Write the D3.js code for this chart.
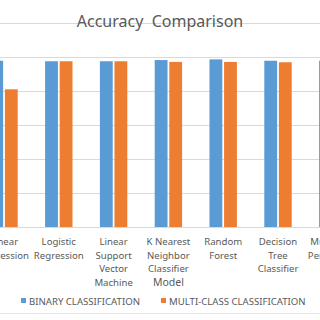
<!DOCTYPE html>
<html>
<head>
<meta charset="utf-8">
<script src="https://cdn.jsdelivr.net/npm/d3@7"></script>
<style>
  html, body { margin: 0; padding: 0; background: #fff; }
  svg { display: block; }
  text { font-family: "Noto Sans", "Open Sans", sans-serif; fill: #595959; }
</style>
</head>
<body>
<svg id="chart" width="320" height="320"></svg>
<script>
var categories = ["Linear Regression", "Logistic Regression", "Linear Support Vector Machine",
    "K Nearest Neighbor Classifier", "Random Forest", "Decision Tree Classifier", "Multilayer Perceptron"]
var categoryLines = [["Linear", "Regression"], ["Logistic", "Regression"], ["Linear", "Support", "Vector", "Machine"],
    ["K Nearest", "Neighbor", "Classifier"], ["Random", "Forest"], ["Decision", "Tree", "Classifier"], ["Multilayer", "Perceptron"]]
var seriesNames = ["BINARY CLASSIFICATION", "MULTI-CLASS CLASSIFICATION"]
var binaryValues = [97.8, 97.5, 97.5, 98.2, 98.6, 97.8, 97.8]
var multiValues = [81.0, 97.5, 97.5, 97.1, 97.1, 96.9, 97.0]
var yTicks = [0, 20, 40, 60, 80, 100, 120]
var colors = ["#5B9BD5", "#ED7D31"]

var svg = d3.select("#chart")
var plot = { left: -23.4, right: 360.2, top: 23, bottom: 227 }

// scales
var x0 = d3.scaleBand()
    .domain(categories)
    .range([plot.left, plot.right])
var bw = x0.bandwidth()
var x1 = d3.scaleBand()
    .domain(seriesNames)
    .range([bw * 0.25, bw * 0.75])
    .paddingInner(0.12)
var yScale = d3.scaleLinear()
    .domain([0, 120])
    .range([plot.bottom, plot.top])

// gridlines
svg.append("g").selectAll("line")
    .data(yTicks)
    .enter()
    .append("line")
    .attr("x1", 0).attr("x2", 320)
    .attr("y1", function (d) { return Math.round(yScale(d)) + 0.5 })
    .attr("y2", function (d) { return Math.round(yScale(d)) + 0.5 })
    .attr("stroke", "#d9d9d9")
    .attr("stroke-width", 1)

// bars
var rows = categories.map(function (c, i) {
    return { key: c, values: [binaryValues[i], multiValues[i]] }
})
var groups = svg.append("g").selectAll("g")
    .data(rows)
    .enter()
    .append("g")
    .attr("transform", function (d) { return "translate(" + x0(d.key) + ",0)" })
groups.selectAll("rect")
    .data(function (d) { return d.values.map(function (v, j) { return { s: seriesNames[j], v: v, j: j } }) })
    .enter()
    .append("rect")
    .attr("x", function (d) { return x1(d.s) })
    .attr("y", function (d) { return yScale(d.v) })
    .attr("width", x1.bandwidth())
    .attr("height", function (d) { return yScale(0) - yScale(d.v) })
    .attr("fill", function (d) { return colors[d.j] })

// category labels
svg.append("g").selectAll("text")
    .data(categories)
    .enter()
    .append("text")
    .attr("text-anchor", "middle")
    .attr("font-size", "9.6px")
    .each(function (d, i) {
        var t = d3.select(this)
        categoryLines[i].forEach(function (line, k) {
            t.append("tspan")
                .attr("x", x0(d) + bw / 2)
                .attr("y", 245 + k * 13.6)
                .text(line)
        })
    })

// axis title
svg.append("text")
    .attr("x", (plot.left + plot.right) / 2)
    .attr("y", 286)
    .attr("text-anchor", "middle")
    .attr("font-size", "10.5px")
    .text("Model")

// title
svg.append("text")
    .attr("x", 160)
    .attr("y", 26.5)
    .attr("text-anchor", "middle")
    .attr("font-size", "16px")
    .attr("xml:space", "preserve")
    .text("Accuracy  Comparison")

// legend
var legendX = [21, 161]
var legend = svg.append("g").selectAll("g")
    .data(seriesNames)
    .enter()
    .append("g")
    .attr("transform", function (d, i) { return "translate(" + legendX[i] + ",297)" })
legend.append("rect")
    .attr("width", 5).attr("height", 5)
    .attr("y", 1)
    .attr("fill", function (d, i) { return colors[i] })
legend.append("text")
    .attr("x", 8)
    .attr("y", 7.5)
    .attr("font-size", "9.6px")
    .text(function (d) { return d })

// chart border at bottom
svg.append("line")
    .attr("x1", 0).attr("x2", 320)
    .attr("y1", 313.5).attr("y2", 313.5)
    .attr("stroke", "#e6e6e6")
</script>
</body>
</html>
